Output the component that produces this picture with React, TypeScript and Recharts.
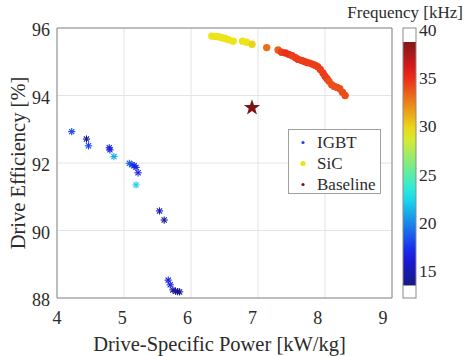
import {
  CartesianGrid,
  Legend,
  ReferenceLine,
  Scatter,
  ScatterChart,
  XAxis,
  YAxis,
} from "recharts";

// IGBT designs (asterisks)
const igbtPower = [4.22, 4.44, 4.47, 4.78, 4.79, 4.85, 5.08, 5.12, 5.15, 5.18, 5.21, 5.18, 5.53, 5.6, 5.66, 5.69, 5.73, 5.77, 5.8, 5.83];
const igbtEff = [92.93, 92.71, 92.51, 92.45, 92.39, 92.19, 91.99, 91.95, 91.92, 91.87, 91.71, 91.35, 90.58, 90.31, 88.53, 88.39, 88.24, 88.2, 88.19, 88.18];
const igbtFreq = [18, 14, 18, 16, 17, 21, 19, 18, 17, 17, 17, 22, 16, 14, 16, 17, 15, 14, 14, 14];

// SiC designs (filled circles)
const sicPower = [6.31, 6.36, 6.41, 6.46, 6.51, 6.56, 6.63, 6.77, 6.83, 6.91, 7.13, 7.3, 7.35, 7.41, 7.46, 7.51, 7.56, 7.6, 7.65, 7.69, 7.73, 7.77, 7.81, 7.85, 7.89, 7.93, 7.97, 8.0, 8.03, 8.06, 8.1, 8.14, 8.18, 8.22, 8.26, 8.3];
const sicEff = [95.76, 95.75, 95.74, 95.71, 95.69, 95.65, 95.61, 95.61, 95.58, 95.52, 95.42, 95.35, 95.28, 95.26, 95.22, 95.18, 95.12, 95.07, 95.04, 95.01, 94.98, 94.96, 94.93, 94.9, 94.85, 94.77, 94.67, 94.57, 94.5, 94.42, 94.32, 94.27, 94.24, 94.2, 94.1, 94.0];
const sicFreq = [29.5, 29.5, 29.5, 29.5, 29.5, 29.5, 29.5, 29.5, 29.5, 30, 33, 33.5, 34.5, 35, 35, 34.5, 34.5, 34.5, 34.5, 34.5, 34.5, 34.5, 34.5, 34.5, 34.5, 34.5, 34.5, 34.5, 34.5, 34, 34, 34, 34, 34, 34, 34];

// Baseline design (star)
const basePower = [6.91];
const baseEff = [93.64];

const xTicks = [4, 5, 6, 7, 8, 9];
const yTicks = [88, 90, 92, 94, 96];
const cbarTicks = [15, 20, 25, 30, 35, 40];
const cbarLimits = [12.2, 40.2];
const colorLimits = [13.5, 38.75];
const seriesNames = ["IGBT", "SiC", "Baseline"];

const FONT = '"Liberation Serif", "Times New Roman", serif';
const TEXT = "#2b2b2b";
const AXIS = "#8a8a8a";
const STAR = "#7d1414";

function clamp(v: number) {
  return Math.max(0, Math.min(1, v));
}

function jet(f: number) {
  const t = clamp((f - colorLimits[0]) / (colorLimits[1] - colorLimits[0]));
  const r = clamp(1.5 - Math.abs(4 * t - 3));
  const g = clamp(1.5 - Math.abs(4 * t - 2));
  const b = clamp(1.5 - Math.abs(4 * t - 1));
  const m = (c: number) => Math.round(25 + c * 210);
  return `rgb(${m(r)},${m(g)},${m(b)})`;
}

const igbtData = igbtPower.map((x, i) => ({ x, y: igbtEff[i], f: igbtFreq[i] }));
const sicData = sicPower.map((x, i) => ({ x, y: sicEff[i], f: sicFreq[i] }));
const baseData = basePower.map((x, i) => ({ x, y: baseEff[i] }));

function Asterisk(props: any) {
  const { cx, cy, payload } = props;
  const c = jet(payload.f);
  const r = 3.6;
  const d = r * 0.72;
  return (
    <g stroke={c} strokeWidth={1.1}>
      <line x1={cx - r} y1={cy} x2={cx + r} y2={cy} />
      <line x1={cx} y1={cy - r} x2={cx} y2={cy + r} />
      <line x1={cx - d} y1={cy - d} x2={cx + d} y2={cy + d} />
      <line x1={cx - d} y1={cy + d} x2={cx + d} y2={cy - d} />
    </g>
  );
}

function Dot(props: any) {
  const { cx, cy, payload } = props;
  return <circle cx={cx} cy={cy} r={3.7} fill={jet(payload.f)} />;
}

function Star(props: any) {
  const { cx, cy } = props;
  const pts: string[] = [];
  for (let k = 0; k < 10; k++) {
    const rad = k % 2 === 0 ? 8.5 : 3.4;
    const a = -Math.PI / 2 + (k * Math.PI) / 5;
    pts.push(`${cx + rad * Math.cos(a)},${cy + rad * Math.sin(a)}`);
  }
  return <polygon points={pts.join(" ")} fill={STAR} />;
}

// tick labels in the source sit a little left of their ticks, more so to the right
function XTick(props: any) {
  const { x, y, payload } = props;
  const shift = (payload.value - 4) * 1.8;
  return (
    <text x={x - shift} y={y} dy="0.71em" textAnchor="middle" fill={TEXT} fontSize={18} fontFamily={FONT}>
      {payload.value}
    </text>
  );
}

function YTick(props: any) {
  const { x, y, payload } = props;
  return (
    <text x={x} y={y + 2} dy="0.355em" textAnchor="end" fill={TEXT} fontSize={18} fontFamily={FONT}>
      {payload.value}
    </text>
  );
}

const legendColors = [jet(18), jet(29.5), STAR];
const legendSizes = [1.6, 2.6, 1.6];

function LegendBox() {
  return (
    <div
      style={{
        border: "1px solid #a0a0a0",
        background: "#fff",
        width: 93,
        height: 65,
        boxSizing: "border-box",
        paddingTop: 2,
        fontFamily: FONT,
        fontSize: 17,
        color: TEXT,
      }}
    >
      {seriesNames.map((name, i) => (
        <div key={name} style={{ display: "flex", alignItems: "center", height: 21 }}>
          <svg width={28} height={21}>
            <circle cx={14} cy={10.5} r={legendSizes[i]} fill={legendColors[i]} />
          </svg>
          <span>{name}</span>
        </div>
      ))}
    </div>
  );
}

function Colorbar() {
  const top = 28;
  const bottom = 298;
  const x = 403;
  const w = 13;
  const sy = (v: number) =>
    bottom - ((v - cbarLimits[0]) / (cbarLimits[1] - cbarLimits[0])) * (bottom - top);
  const stops = [];
  for (let k = 0; k <= 20; k++) {
    const f = colorLimits[0] + (k / 20) * (colorLimits[1] - colorLimits[0]);
    stops.push(<stop key={k} offset={`${(k / 20) * 100}%`} stopColor={jet(f)} />);
  }
  return (
    <svg
      width={474}
      height={356}
      style={{ position: "absolute", left: 0, top: 0, pointerEvents: "none" }}
    >
      <defs>
        <linearGradient id="cbar" x1="0" y1="1" x2="0" y2="0">
          {stops}
        </linearGradient>
      </defs>
      <rect x={x} y={top} width={w} height={bottom - top} fill="#fff" />
      <rect
        x={x}
        y={sy(colorLimits[1])}
        width={w}
        height={sy(colorLimits[0]) - sy(colorLimits[1])}
        fill="url(#cbar)"
      />
      <rect x={x} y={top} width={w} height={bottom - top} fill="none" stroke={AXIS} strokeWidth={1} />
      {cbarTicks.map((t) => (
        <text
          key={t}
          x={419}
          y={sy(t)}
          dy="0.35em"
          fontFamily={FONT}
          fontSize={17.5}
          fill={TEXT}
        >
          {t}
        </text>
      ))}
      <text x={463} y={18} textAnchor="end" fontFamily={FONT} fontSize={17} fill={TEXT}>
        Frequency [kHz]
      </text>
    </svg>
  );
}

export default function App() {
  return (
    <div
      style={{
        position: "fixed",
        left: 0,
        top: 0,
        width: 474,
        height: 356,
        background: "#fff",
      }}
    >
      <ScatterChart
        width={474}
        height={356}
        margin={{ top: 28, right: 82, bottom: 0, left: 0 }}
        style={{ fontFamily: FONT }}
      >
        <CartesianGrid stroke="#e4e4e4" strokeWidth={1} />
        <XAxis
          type="number"
          dataKey="x"
          domain={[4, 9]}
          ticks={xTicks}
          height={58}
          tickLine={false}
          tickSize={6}
          tickMargin={7}
          axisLine={{ stroke: AXIS }}
          tick={XTick}
          label={{
            value: "Drive-Specific Power [kW/kg]",
            position: "insideBottom",
            offset: 5,
            dx: -5,
            fill: TEXT,
            fontSize: 20.5,
            fontFamily: FONT,
          }}
        />
        <YAxis
          type="number"
          dataKey="y"
          domain={[88, 96]}
          ticks={yTicks}
          width={57}
          tickLine={false}
          tickSize={6}
          tickMargin={1}
          axisLine={{ stroke: AXIS }}
          tick={YTick}
          label={{
            value: "Drive Efficiency [%]",
            angle: -90,
            position: "insideLeft",
            offset: 18,
            fill: TEXT,
            fontSize: 20.5,
            fontFamily: FONT,
            style: { textAnchor: "middle" },
          }}
        />
        <ReferenceLine y={96} stroke={AXIS} />
        <ReferenceLine x={9} stroke={AXIS} />
        <Legend
          layout="vertical"
          align="center"
          verticalAlign="middle"
          content={() => <LegendBox />}
          wrapperStyle={{ left: 288, top: 129, width: 93, height: 65 }}
        />
        <Scatter name="IGBT" data={igbtData} shape={Asterisk} isAnimationActive={false} />
        <Scatter name="SiC" data={sicData} shape={Dot} isAnimationActive={false} />
        <Scatter name="Baseline" data={baseData} shape={Star} isAnimationActive={false} />
      </ScatterChart>
      <Colorbar />
    </div>
  );
}
